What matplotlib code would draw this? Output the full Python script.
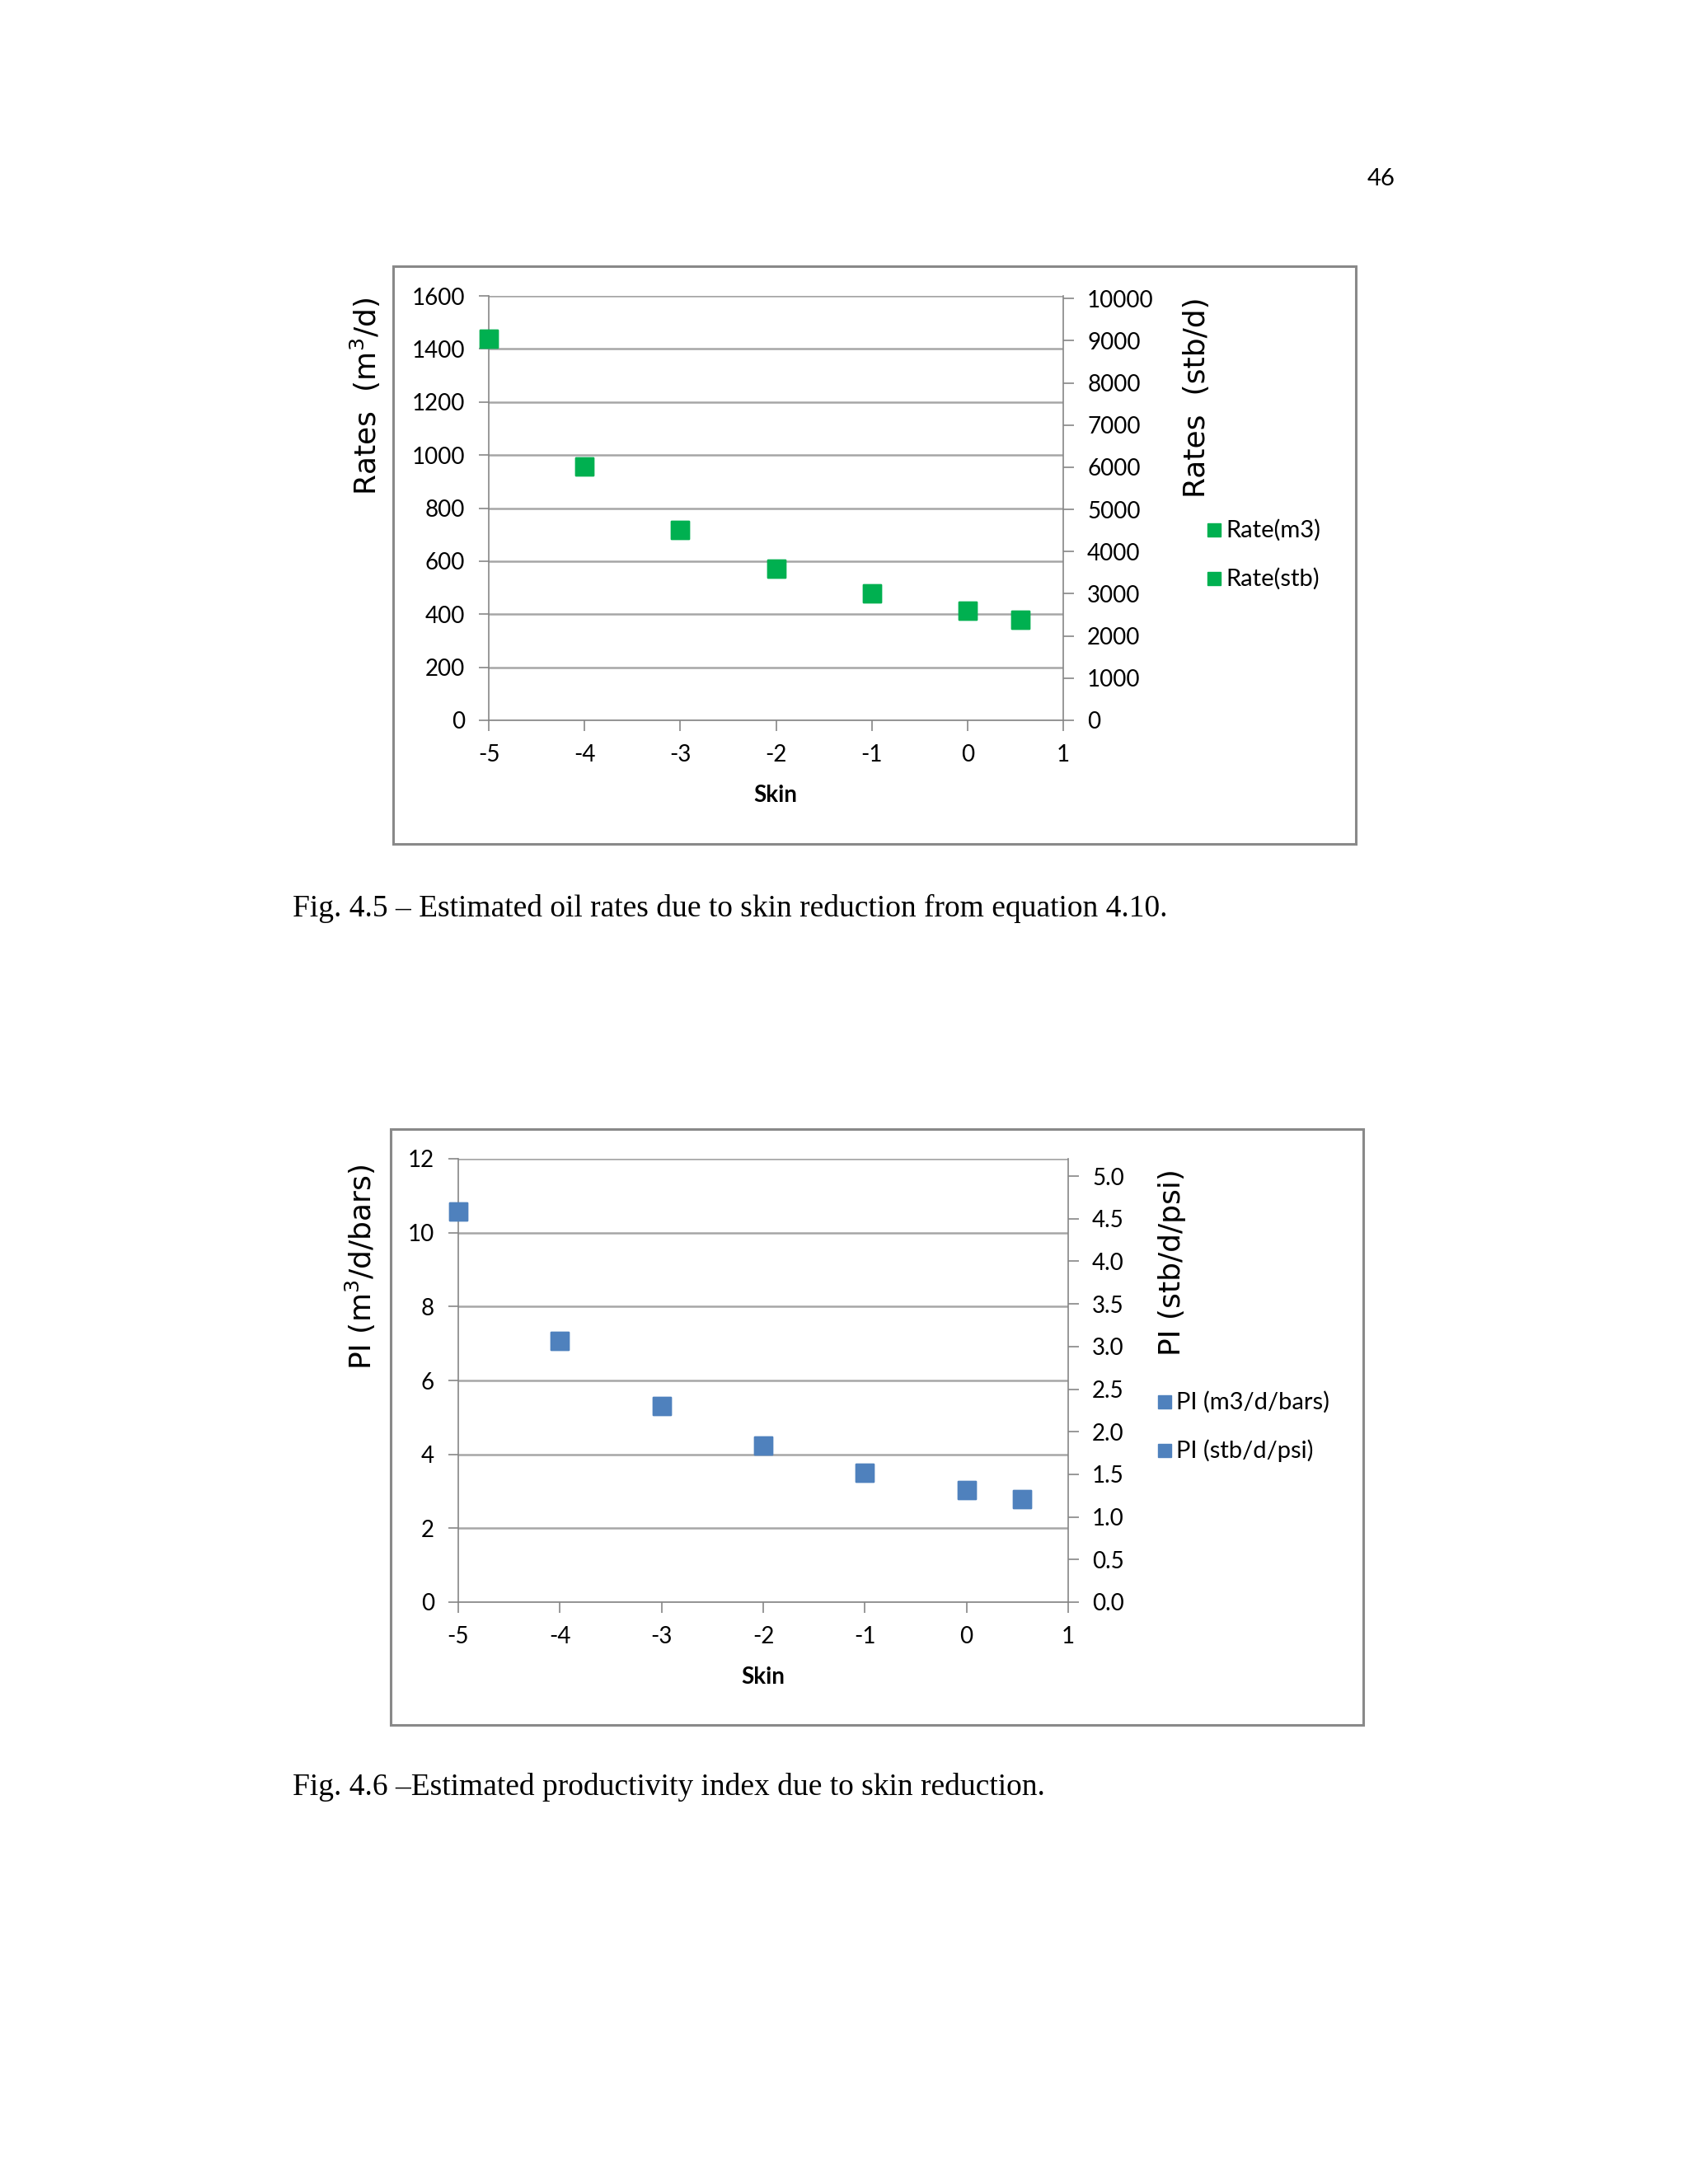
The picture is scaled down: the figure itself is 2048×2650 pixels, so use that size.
import numpy as np
import matplotlib.pyplot as plt
from matplotlib.lines import Line2D
from matplotlib.patches import Rectangle

plt.rcParams["axes.unicode_minus"] = False

# data
skin = [-5, -4, -3, -2, -1, 0, 0.55]
rate_m3 = [1437, 956, 719, 572, 479, 413, 379]
pi_m3 = [10.57, 7.06, 5.31, 4.24, 3.51, 3.03, 2.79]

m3_to_stb = 6.29
bar_to_psi = 14.5038
rate_stb = [r * m3_to_stb for r in rate_m3]
pi_stb = [p * m3_to_stb / bar_to_psi for p in pi_m3]

W, H = 2048, 2650
green = "#00B050"
blue = "#4F81BD"
grid_c = "#A6A6A6"
axis_c = "#868686"
tick_font = ["Lato", "DejaVu Sans"]
label_font = ["DejaVu Sans"]
serif = ["Liberation Serif", "DejaVu Serif"]

fig = plt.figure(figsize=(W / 100, H / 100), dpi=100)
fig.patch.set_facecolor("white")


def box(x0, y0, x1, y1):
    return [x0 / W, 1 - y1 / H, (x1 - x0) / W, (y1 - y0) / H]


def frame(x0, y0, x1, y1):
    fig.patches.append(Rectangle((x0 / W, 1 - y1 / H), (x1 - x0) / W, (y1 - y0) / H,
                                 transform=fig.transFigure, fill=False,
                                 edgecolor="#898989", linewidth=2.2))


def style(ax, ax2):
    for a in (ax, ax2):
        for s in a.spines.values():
            s.set_visible(False)
        a.tick_params(length=9, width=1.2, color=axis_c, labelsize=20, pad=12)
        for lab in a.get_xticklabels() + a.get_yticklabels():
            lab.set_family(tick_font)
    ax.spines["left"].set_visible(True)
    ax.spines["bottom"].set_visible(True)
    ax2.spines["right"].set_visible(True)
    for s in (ax.spines["left"], ax.spines["bottom"], ax2.spines["right"]):
        s.set_color(axis_c)
        s.set_linewidth(1.2)
    ax.yaxis.grid(True, color=grid_c, linewidth=1.8)
    ax.set_axisbelow(True)
    ax.set_xlim(-5, 1)
    ax.set_xticks(range(-5, 2))


def legend(names, color, x, ys):
    for name, y in zip(names, ys):
        fig.lines.append(Line2D([x / W], [1 - y / H], marker="s", markersize=12,
                                color=color, linestyle="none",
                                transform=fig.transFigure))
        fig.text((x + 14) / W, 1 - y / H, name, fontsize=21, family=tick_font,
                 va="center", ha="left")


# ---- Fig 4.5 ----
frame(477, 323, 1645, 1024)
ax1 = fig.add_axes(box(593, 359, 1290, 874))
ax1b = ax1.twinx()
ax1.plot(skin, rate_m3, "s", color=green, markersize=16, clip_on=False, zorder=5)
ax1b.plot(skin, rate_stb, "s", color=green, markersize=16, clip_on=False, zorder=5)
ax1.set_ylim(0, 1600)
ax1.set_yticks(range(0, 1601, 200))
ax1b.set_ylim(0, 1600 * m3_to_stb)
ax1b.set_yticks(range(0, 10001, 1000))
style(ax1, ax1b)
fig.text(443 / W, 1 - 481 / H, "Rates  (m$^3$/d)", rotation=90, fontsize=26,
         family=label_font, ha="center", va="center")
fig.text(1452 / W, 1 - 482 / H, "Rates  (stb/d)", rotation=90, fontsize=26,
         family=label_font, ha="center", va="center")
fig.text(941 / W, 1 - 965 / H, "Skin", fontsize=20, fontweight="bold",
         family=tick_font, ha="center", va="center")
legend(["Rate(m3)", "Rate(stb)"], green, 1473, [643, 702])

# ---- Fig 4.6 ----
frame(474, 1370, 1654, 2093)
ax2 = fig.add_axes(box(556, 1406, 1296, 1944))
ax2b = ax2.twinx()
ax2.plot(skin, pi_m3, "s", color=blue, markersize=16, clip_on=False, zorder=5)
ax2b.plot(skin, pi_stb, "s", color=blue, markersize=16, clip_on=False, zorder=5)
ax2.set_ylim(0, 12)
ax2.set_yticks(range(0, 13, 2))
ax2b.set_ylim(0, 12 * m3_to_stb / bar_to_psi)
ax2b.set_yticks(np.arange(0, 5.01, 0.5))
ax2b.set_yticklabels([f"{v:.1f}" for v in np.arange(0, 5.01, 0.5)])
style(ax2, ax2b)
fig.text(437 / W, 1 - 1537 / H, "PI (m$^3$/d/bars)", rotation=90, fontsize=26,
         family=label_font, ha="center", va="center")
fig.text(1422 / W, 1 - 1532 / H, "PI (stb/d/psi)", rotation=90, fontsize=26,
         family=label_font, ha="center", va="center")
fig.text(926 / W, 1 - 2035 / H, "Skin", fontsize=20, fontweight="bold",
         family=tick_font, ha="center", va="center")
legend(["PI (m3/d/bars)", "PI (stb/d/psi)"], blue, 1413, [1701, 1760])

# page number and captions
fig.text(1676 / W, 1 - 217 / H, "46", fontsize=21, family=tick_font,
         ha="center", va="center")
fig.text(355 / W, 1 - 1102 / H,
         "Fig. 4.5 \u2013 Estimated oil rates due to skin reduction from equation 4.10.",
         fontsize=27, family=serif, va="center")
fig.text(355 / W, 1 - 2168 / H,
         "Fig. 4.6 \u2013Estimated productivity index due to skin reduction.",
         fontsize=27, family=serif, va="center")

fig.savefig("out.png", dpi=100, facecolor="white")
